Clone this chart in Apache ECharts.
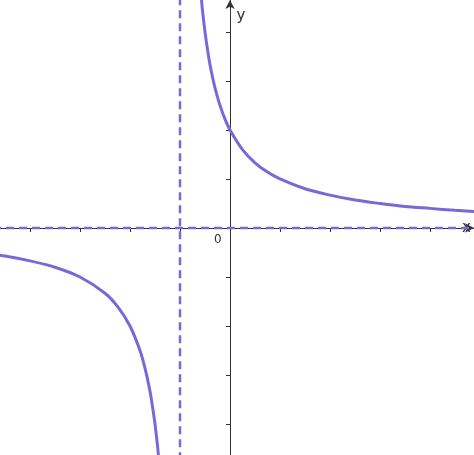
<!DOCTYPE html>
<html>
<head>
<meta charset="utf-8">
<script src="https://cdn.jsdelivr.net/npm/echarts@6/dist/echarts.min.js"></script>
<style>html,body{margin:0;padding:0;background:#fff}#chart{width:474px;height:455px}</style>
</head>
<body>
<div id="chart"></div>
<script>
// y = 2/(x+1)
const rightX = [-0.6, -0.55, -0.5, -0.45, -0.4, -0.35, -0.3, -0.2, -0.1, 0, 0.25, 0.5, 0.75, 1, 1.5, 2, 2.5, 3, 3.5, 4, 4.5, 5];
const rightY = [5, 4.44, 4, 3.64, 3.33, 3.08, 2.86, 2.5, 2.22, 2, 1.6, 1.33, 1.14, 1, 0.8, 0.67, 0.57, 0.5, 0.44, 0.4, 0.36, 0.33];
const leftX = [-5, -4.5, -4, -3.5, -3, -2.5, -2.25, -2, -1.8, -1.7, -1.6, -1.55, -1.5, -1.45, -1.4];
const leftY = [-0.5, -0.57, -0.67, -0.8, -1, -1.33, -1.6, -2, -2.5, -2.86, -3.33, -3.64, -4, -4.44, -5];
const tickValues = [-4, -3, -2, -1, 1, 2, 3, 4];
const asymX = -1;
const asymY = 0;

const purple = '#7b68d8';
const zip = (xs, ys) => xs.map((x, i) => [x, ys[i]]);
const fmt = v => (v < 0 ? '\u2212' + (-v) : String(v));

const chart = echarts.init(document.getElementById('chart'));
const axisCommon = {
  type: 'value',
  axisLine: { onZero: true, symbol: ['none', 'arrow'], symbolSize: [7, 9], lineStyle: { color: '#333', width: 1 } },
  axisTick: { show: true, length: 4, customValues: tickValues, lineStyle: { color: '#333' } },
  splitLine: { show: false },
  axisLabel: { customValues: tickValues, formatter: fmt, color: '#333', fontSize: 12, fontFamily: 'DejaVu Sans' },
  nameTextStyle: { color: '#333', fontSize: 15, fontFamily: 'DejaVu Sans' }
};
chart.setOption({
  animation: false,
  grid: { left: 0, right: 0, top: 0, bottom: 0, containLabel: false, outerBoundsMode: 'none' },
  xAxis: Object.assign({}, axisCommon, { min: -4.6, max: 4.88, name: 'x', nameGap: -12, nameTextStyle: Object.assign({}, axisCommon.nameTextStyle, { padding: [0, 0, 22, 0] }) }),
  yAxis: Object.assign({}, axisCommon, { min: -4.63, max: 4.65, name: 'y', nameGap: -24, nameTextStyle: Object.assign({}, axisCommon.nameTextStyle, { padding: [0, 0, 0, 22] }) }),
  graphic: [{ type: 'text', left: 214, top: 234, style: { text: '0', fill: '#333', fontSize: 12, fontFamily: 'DejaVu Sans' } }],
  series: [
    { type: 'line', data: zip(rightX, rightY), smooth: 0.3, showSymbol: false, clip: true, lineStyle: { color: purple, width: 3 } },
    { type: 'line', data: zip(leftX, leftY), smooth: 0.3, showSymbol: false, clip: true, lineStyle: { color: purple, width: 3 } },
    { type: 'line', data: [[asymX, -5], [asymX, 5]], showSymbol: false, lineStyle: { color: purple, width: 2.5, type: [8, 5] } },
    { type: 'line', data: [[-5, asymY], [5, asymY]], showSymbol: false, lineStyle: { color: purple, width: 2.5, type: [8, 5] } }
  ]
});
</script>
</body>
</html>
